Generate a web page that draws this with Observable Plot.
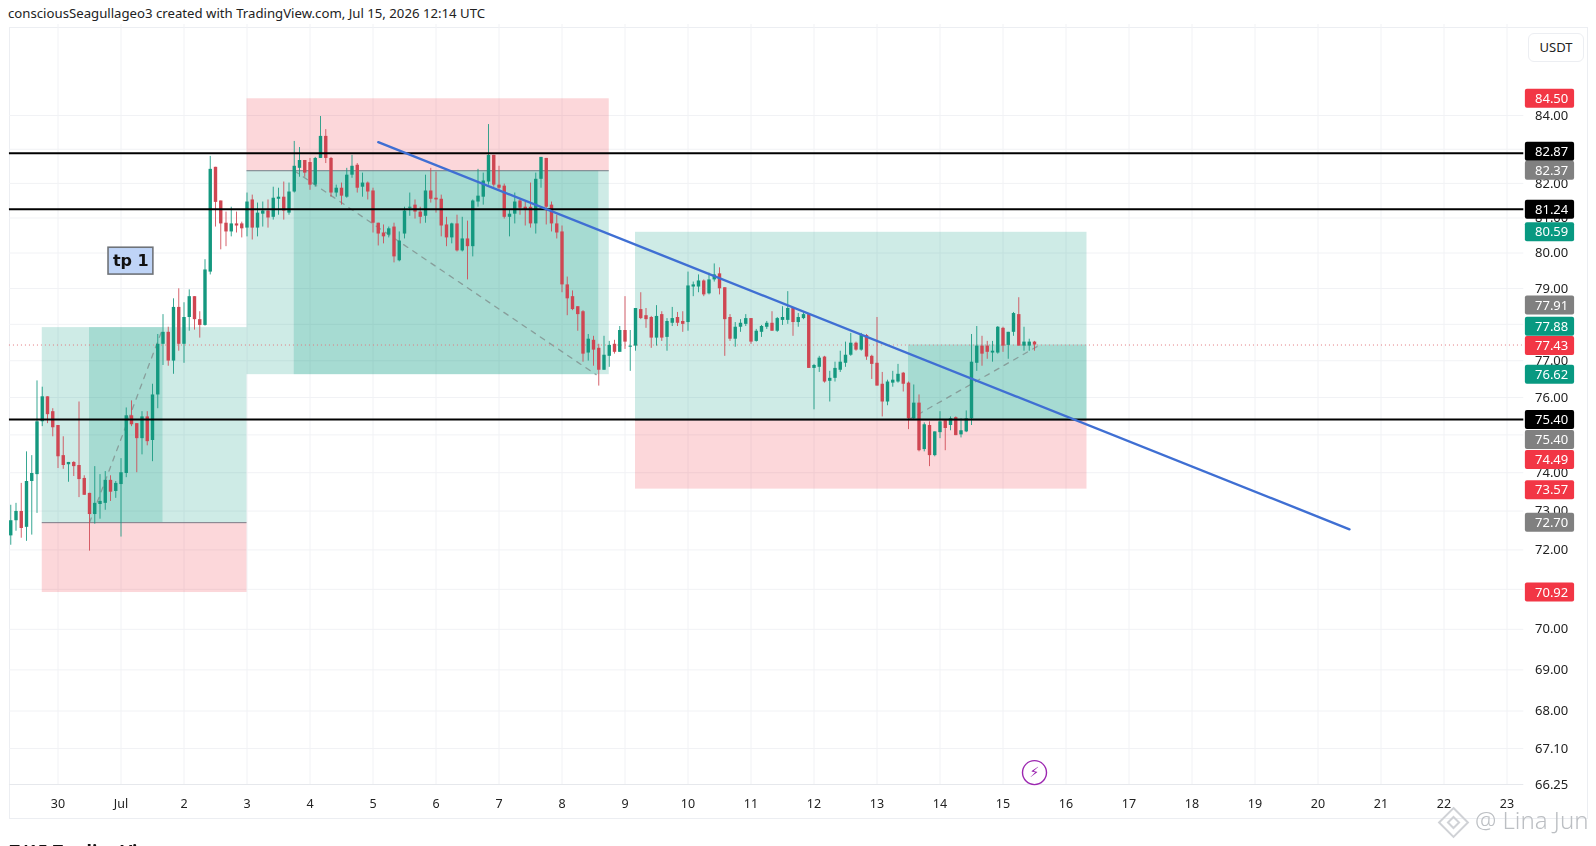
<!DOCTYPE html>
<html>
<head>
<meta charset="utf-8">
<script src="https://cdn.jsdelivr.net/npm/d3@7"></script>
<script src="https://cdn.jsdelivr.net/npm/@observablehq/plot@0.6"></script>
<style>
html,body{margin:0;padding:0;background:#fff;overflow:hidden;width:1596px;height:846px;position:relative}
#title{height:24px;padding-left:8px;font:13.2px/27px "Noto Sans",sans-serif;color:#222;white-space:nowrap}
#unit{position:absolute;left:1528px;top:33px;width:54px;height:27px;border:1px solid #eceef2;border-radius:6px;background:#fff;font:13px/27px "Noto Sans",sans-serif;color:#222;text-align:center}
svg{display:block;filter:blur(.35px)}
</style>
</head>
<body>
<div id="title">consciousSeagullageo3 created with TradingView.com, Jul 15, 2026 12:14 UTC</div>
<div id="chart"></div>
<div id="unit">USDT</div>
<script>
// 2-hour candles, first bar at Jun 29 06:00 UTC
const firstBar = Date.UTC(2026, 5, 29, 6);
const opens = [72.36,72.75,72.99,72.58,73.77,73.95,75.35,76.02,75.62,75.25,
74.45,74.21,74.27,74.19,73.85,73.46,72.91,73.17,73.20,73.80,
73.51,73.69,73.98,75.51,75.30,74.90,75.48,74.85,76.07,77.45,
77.78,76.99,78.47,77.45,78.19,78.77,78.13,77.97,79.46,82.47,
81.49,80.85,80.60,80.83,80.83,80.71,81.52,80.71,81.11,81.20,
81.02,81.54,81.60,81.14,81.75,82.44,82.67,82.61,81.95,82.73,
83.38,82.73,81.72,81.86,81.60,82.24,82.53,81.89,82.01,81.78,
80.85,80.57,80.51,80.74,79.78,80.54,81.28,81.37,81.17,81.05,
81.78,81.57,81.54,80.80,80.43,80.83,80.06,80.40,80.18,81.46,
81.60,82.04,82.82,81.95,81.92,81.02,81.11,81.49,81.31,81.31,
80.83,82.12,82.73,81.37,80.83,80.60,79.10,78.77,78.49,78.35,
77.21,77.56,77.34,76.74,77.12,77.45,77.23,77.83,77.37,77.40,
78.41,78.24,78.19,77.62,78.27,77.64,78.03,78.19,78.08,78.05,
79.04,79.04,79.21,78.85,79.24,79.41,79.02,78.19,77.59,77.92,
78.00,78.16,77.53,77.78,77.92,78.03,77.81,78.11,78.11,78.44,
78.05,78.16,78.27,76.79,76.82,77.10,76.44,76.52,76.74,76.93,
77.15,77.48,77.29,77.69,77.12,76.93,76.36,75.88,76.39,76.42,
76.66,76.39,75.43,75.85,74.61,75.25,74.45,75.06,75.38,75.25,
75.46,75.00,75.08,75.43,76.93,77.40,77.40,77.21,77.21,77.89,
77.42,77.78,78.27,77.40,77.40,77.51];
const closes = [72.75,72.99,72.55,73.77,73.98,75.35,76.02,75.54,75.19,74.42,
74.19,74.27,74.16,73.82,73.41,72.91,73.20,73.25,73.80,73.49,
73.72,74.00,75.51,75.27,74.90,75.48,74.82,76.07,77.45,77.78,
76.99,78.47,77.45,78.19,78.77,78.13,77.97,79.52,82.41,81.45,
80.83,80.60,80.83,80.77,80.69,81.46,80.71,81.14,81.20,81.00,
81.57,81.60,81.20,81.75,82.50,82.67,82.30,81.95,82.73,83.38,
82.73,81.72,81.86,81.63,82.24,82.50,81.86,82.01,81.75,80.85,
80.54,80.46,80.69,79.89,80.34,81.20,81.31,81.17,81.02,81.78,
81.54,81.52,80.77,80.43,80.83,80.06,80.40,80.18,81.49,81.63,
82.07,82.82,81.95,81.86,81.02,81.11,81.46,81.28,81.23,80.83,
82.12,82.76,81.31,80.83,80.57,79.10,78.71,78.41,78.27,77.18,
77.59,77.29,76.74,77.15,77.42,77.23,77.83,77.51,77.40,78.44,
78.16,78.13,77.62,78.22,77.62,78.08,78.16,78.03,78.00,79.07,
79.10,79.21,78.82,79.24,79.38,78.99,78.13,77.59,77.92,78.03,
78.16,77.51,77.81,77.94,78.03,77.81,78.16,78.19,78.44,78.05,
78.19,78.27,76.79,76.87,77.07,76.42,76.52,76.79,76.96,77.15,
77.48,77.29,77.69,77.10,76.90,76.31,75.88,76.42,76.47,76.63,
76.36,75.43,75.85,74.58,75.27,74.45,75.08,75.35,75.17,75.43,
74.98,75.11,75.43,76.96,77.40,77.18,77.23,77.26,77.92,77.40,
77.78,78.30,77.40,77.51,77.51,77.43];
const highs = [73.15,73.20,73.72,74.55,74.45,76.45,76.28,76.02,75.70,75.25,
74.95,74.27,74.29,75.88,73.92,73.46,74.16,73.95,74.03,73.92,
73.77,74.37,75.72,75.91,75.30,75.62,75.62,76.36,77.72,78.27,
77.92,78.71,78.99,78.60,78.96,78.77,78.35,79.81,82.79,82.47,
81.49,81.17,81.31,81.17,80.88,81.72,81.66,81.43,81.46,81.52,
81.89,81.86,82.04,82.01,83.23,83.05,82.67,82.73,82.76,83.97,
83.58,82.76,81.95,82.01,82.44,82.82,82.58,82.30,82.04,81.86,
80.85,80.80,80.74,80.85,80.60,81.31,81.72,81.52,81.31,82.24,
82.44,82.33,81.66,81.02,80.85,81.08,81.02,80.91,81.52,82.41,
82.30,83.73,82.82,82.50,81.98,81.23,81.72,81.54,81.46,82.01,
82.30,82.76,82.73,81.46,81.08,80.77,79.32,78.93,78.49,78.38,
77.72,77.67,77.45,77.67,77.53,77.56,77.94,78.77,77.83,78.44,
78.88,78.44,78.22,78.52,78.35,78.16,78.47,78.33,78.35,79.46,
79.18,79.38,79.24,79.43,79.69,79.58,79.02,78.27,78.05,78.13,
78.27,78.16,77.86,77.97,78.08,78.35,78.19,78.49,78.91,78.44,
78.30,78.35,78.30,76.90,77.12,77.12,76.71,76.96,77.26,77.51,
77.75,77.51,77.75,77.72,77.15,78.19,76.68,76.47,76.71,76.90,
76.68,76.42,76.34,76.07,75.32,75.35,75.08,75.62,75.40,75.48,
75.48,75.43,75.64,77.72,77.94,77.67,77.53,77.53,77.94,77.92,
77.78,78.33,78.74,77.92,77.59,77.53];
const lows = [72.12,72.48,72.30,72.22,72.38,72.94,75.22,75.30,74.95,74.11,
74.09,73.75,73.90,73.35,73.41,71.97,72.66,72.79,73.02,73.25,
73.33,72.33,73.87,75.22,74.00,74.47,74.71,74.29,75.70,76.87,
76.85,76.63,77.26,76.93,77.81,77.84,77.62,77.95,79.38,80.74,
80.09,80.18,80.46,80.57,80.43,80.46,80.37,80.46,80.74,80.71,
80.94,81.08,80.94,81.08,81.72,82.18,82.18,81.80,81.89,82.73,
82.58,81.60,81.60,81.37,81.57,82.15,81.72,81.60,81.52,80.57,
80.20,80.26,80.43,79.72,79.75,80.40,81.05,80.97,80.83,80.85,
81.43,81.14,80.46,80.18,80.26,80.03,80.03,79.24,79.89,81.31,
81.37,81.95,81.89,81.80,80.97,80.46,80.83,81.08,80.77,80.71,
80.54,81.86,80.80,80.60,80.40,78.88,78.24,78.38,77.81,76.96,
76.99,76.85,76.31,76.74,76.82,77.18,77.23,77.31,76.71,77.26,
78.13,77.89,77.34,77.40,77.53,77.26,77.94,77.94,77.78,77.81,
78.77,78.88,78.77,78.82,79.18,78.82,77.12,77.53,77.37,77.78,
77.94,77.45,77.51,77.64,77.86,77.81,77.78,77.97,78.00,77.67,
77.92,78.13,76.79,75.67,76.68,76.39,75.88,76.42,76.68,76.82,
77.12,77.26,77.26,77.01,76.49,76.31,75.48,75.78,76.28,76.39,
76.15,75.14,75.40,74.55,74.55,74.16,74.42,74.90,74.58,75.11,
74.98,74.92,75.06,75.25,76.71,76.85,77.04,76.96,77.18,77.23,
77.04,77.67,77.40,77.26,77.26,77.26];

// axis ticks
const priceTicks = [84,83,82,81,80,79,78,77,76,75,74,73,72,71,70,69,68,67.1,66.25];
const dayLabels = ["30","Jul","2","3","4","5","6","7","8","9","10","11","12","13","14","15","16","17","18","19","20","21","22","23"];

// horizontal support / resistance levels
const levels = [82.87, 81.24, 75.40];
const lastPrice = 77.43;

// long/short position tools
const utc = (mo, d, h = 0, m = 0) => new Date(Date.UTC(2026, mo, d, h, m));
const positions = [
  {start: utc(5,29,18), darkStart: utc(5,30,12), darkEnd: utc(6,1,16), end: utc(6,3,0),  dashEnd: utc(6,1,16), entry: 72.70, risk: 70.92, reward: 77.91, darkTo: 77.91},
  {start: utc(6,3,0),   darkStart: utc(6,3,18),  darkEnd: utc(6,8,14), end: utc(6,8,18), dashEnd: utc(6,8,13), entry: 82.37, risk: 84.50, reward: 76.62, darkTo: 76.62},
  {start: utc(6,9,4),   darkStart: utc(6,13,12), darkEnd: utc(6,16,8), end: utc(6,16,8), dashEnd: utc(6,15,14), entry: 75.40, risk: 73.57, reward: 80.59, darkTo: 77.43}
];

// trend line
const trendTimes = [utc(6,5,2), utc(6,20,12)];
const trendPrices = [83.21, 72.53];

// price scale labels
const priceLabels = [84.50, 82.87, 82.37, 81.24, 80.59, 77.91, 77.88, 77.43, 76.62, 75.40, 75.40, 74.49, 73.57, 72.70, 70.92];
const labelTexts = ["84.50","82.87","82.37","81.24","80.59","77.91","77.88","77.43","76.62","75.40","75.40","74.49","73.57","72.70","70.92"];
const labelKinds = ["red","black","gray","black","green","gray","green","red","green","black","gray","red","red","gray","red"];
const labelNudges = [0,-2,0,0,0,-22,-2,1,0,0,20,6,1,0,0];

const kindColors = {red:"#f23645", green:"#089981", gray:"#808080", black:"#000000"};
const up = "#14987f", down = "#cf4652";
const font = '"Noto Sans",sans-serif';

const candles = opens.map((o,i)=>({t:new Date(firstBar+i*7200000),o,h:highs[i],l:lows[i],c:closes[i]}));
const days = dayLabels.map((s,i)=>({t:utc(5,30+i),s}));

const paneLeft = utc(5,29,5,30), paneRight = utc(6,23,6,24), scaleAxisX = utc(6,23,17);
const labL = utc(6,23,7), labR = utc(6,24,1,45);
const clr = d => d.c >= d.o ? up : down;
const iconTime = utc(6,15,12), iconPrice = 66.53;

const marks = [
  Plot.frame({stroke:"#eceef2"}),
  Plot.ruleX(days,{x:"t",y1:84.9*1.03,y2:66.25,stroke:"#f1f2f5"}),
  Plot.ruleY(priceTicks,{x1:paneLeft,x2:paneRight,y:d=>d,stroke:d=>d===66.25?"#e6e8ec":"#f1f2f5"}),
  // position boxes
  ...positions.flatMap(p=>[
    Plot.rect([p],{x1:"start",x2:"end",y1:"entry",y2:"reward",fill:"#089981",fillOpacity:.2}),
    Plot.rect([p],{x1:"start",x2:"end",y1:"entry",y2:"risk",fill:"#f23645",fillOpacity:.2}),
    Plot.rect([p],{x1:"darkStart",x2:"darkEnd",y1:"entry",y2:"darkTo",fill:"#089981",fillOpacity:.2}),
    Plot.ruleY([p],{x1:"start",x2:"end",y:"entry",stroke:"#787b86",strokeWidth:1})
  ]),
  ...positions.map(p=>Plot.line([[p.darkStart,p.entry],[p.dashEnd,p.darkTo]],{x:d=>d[0],y:d=>d[1],stroke:"#7d8a88",strokeWidth:1.3,strokeDasharray:"5 6",strokeOpacity:.75})),
  // current price
  Plot.ruleY([lastPrice],{x1:paneLeft,x2:paneRight,stroke:"#e2787f",strokeWidth:1,strokeDasharray:"1 3"}),
  // candles
  Plot.ruleX(candles,{x:"t",y1:"l",y2:"h",stroke:clr,strokeWidth:1,strokeOpacity:.85}),
  Plot.ruleX(candles,{x:"t",y1:"o",y2:"c",stroke:clr,strokeWidth:3.4}),
  // levels and trend
  Plot.ruleY(levels,{x1:paneLeft,x2:paneRight,stroke:"#000",strokeWidth:2,dy:-.5}),
  Plot.line(trendTimes.map((t,i)=>({t,p:trendPrices[i]})),{x:"t",y:"p",stroke:"#3f6fd3",strokeWidth:2.4}),
  // tp 1 note
  Plot.rect([{x1:utc(5,30,19,15),x2:utc(6,1,12,20),y1:80.15,y2:79.39}],{x1:"x1",x2:"x2",y1:"y1",y2:"y2",fill:"#bfd4f7",stroke:"#6f7378",strokeWidth:1.6}),
  Plot.text([{t:utc(6,1,3,45),p:79.78,s:"tp 1"}],{x:"t",y:"p",text:"s",fontFamily:'"DejaVu Sans"',fontWeight:700,fontSize:16,fill:"#111"}),
  // axes
  Plot.text(days,{x:"t",text:"s",frameAnchor:"bottom",dy:-15,lineAnchor:"middle",fontFamily:font,fontSize:12.5,fontWeight:d=>d.s==="Jul"?700:400,fill:"#222"}),
  Plot.text(priceTicks,{x:()=>scaleAxisX,y:d=>d,text:d=>d.toFixed(2),fontFamily:font,fontSize:13,fill:"#222"}),
  // price labels
  ...priceLabels.flatMap((v,i)=>[
    Plot.rect([v],{x1:()=>labL,x2:()=>labR,y1:d=>d,y2:d=>d,insetTop:-9.5,insetBottom:-9.5,dy:labelNudges[i],rx:2,fill:kindColors[labelKinds[i]]}),
    Plot.text([v],{x:()=>scaleAxisX,y:d=>d,dy:labelNudges[i],text:()=>labelTexts[i],fontFamily:font,fontSize:13,fill:"#fff"})
  ]),
  // publisher marks
  Plot.dot([0],{x:()=>iconTime,y:()=>iconPrice,r:12,stroke:"#9c27b0",strokeWidth:1.4,fill:"#fff"}),
  Plot.text([0],{x:()=>iconTime,y:()=>iconPrice,text:()=>"⚡",fill:"#9c27b0",fontFamily:'"DejaVu Sans"',fontSize:14}),
  Plot.text([0],{frameAnchor:"bottom-right",dx:1,dy:3,lineAnchor:"middle",text:()=>"@ Lina Jun",fontFamily:'"Noto Sans"',fontWeight:300,fontSize:24,fill:"#bcbfc3"}),
  Plot.dot([0],{frameAnchor:"bottom-right",dx:-134,dy:4,symbol:"diamond2",r:13,stroke:"#d0d2d6",strokeWidth:2,fill:"none"}),
  Plot.dot([0],{frameAnchor:"bottom-right",dx:-134,dy:4,symbol:"diamond2",r:5,stroke:"#d0d2d6",strokeWidth:2,fill:"none"}),
  Plot.text([0],{frameAnchor:"bottom-left",dx:0,dy:27,lineAnchor:"top",text:()=>"T/15 TradingView",fontFamily:font,fontWeight:700,fontSize:18,fill:"#111"})
];

const chart = Plot.plot({
  width:1596,height:822,
  marginLeft:9,marginRight:9,marginTop:3,marginBottom:28,
  x:{type:"utc",domain:[utc(5,30),utc(6,23)],range:[57.5,1506.5],axis:null},
  y:{type:"log",domain:[84,66.25],range:[91,760],axis:null},
  style:{background:"#fff",overflow:"hidden"},
  marks
});
document.getElementById("chart").appendChild(chart);
</script>
</body>
</html>
